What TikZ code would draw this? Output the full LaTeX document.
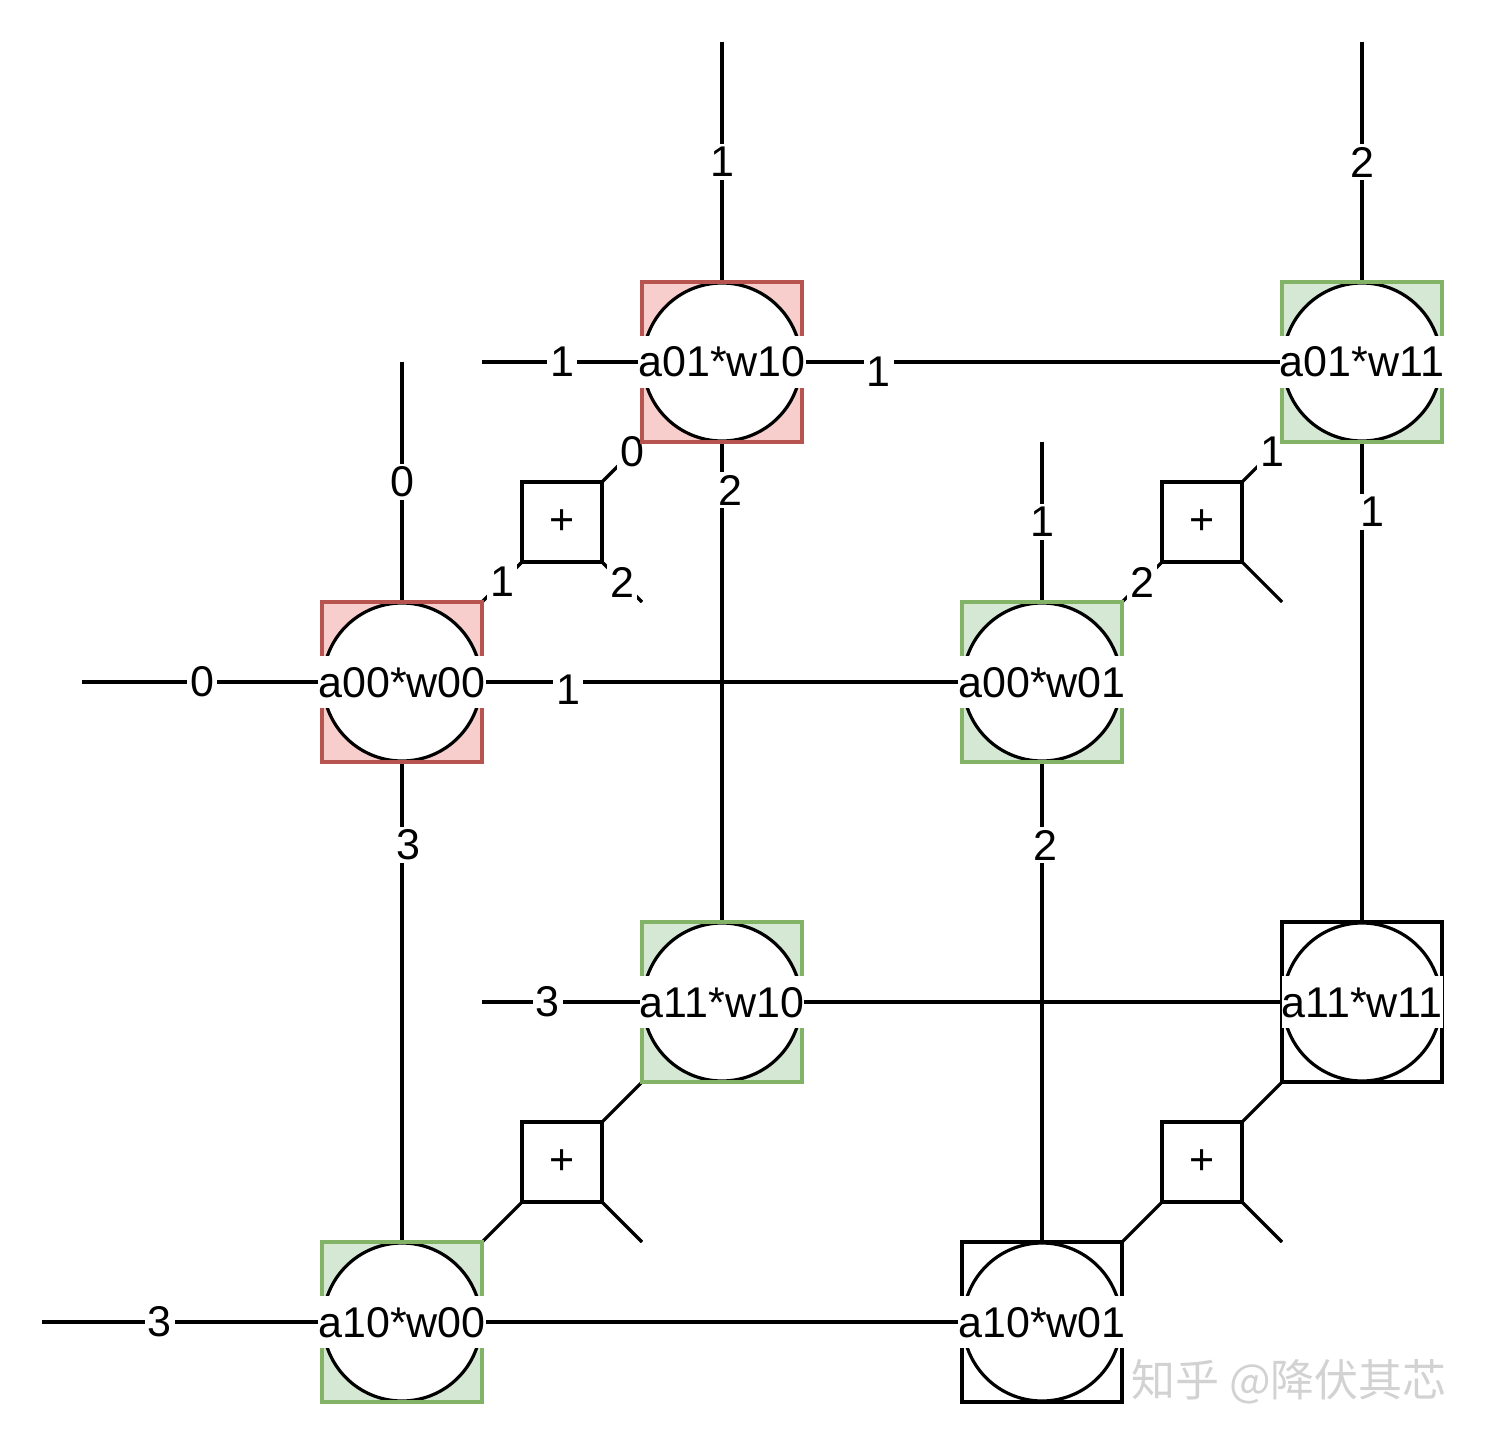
\documentclass[tikz,border=0pt]{standalone}
\usepackage{fontspec}
\setmainfont{Liberation Sans}
\newfontfamily\cjkfont{Noto Sans CJK SC}
\usetikzlibrary{backgrounds}
\definecolor{redfill}{HTML}{F8CECC}
\definecolor{redline}{HTML}{B85450}
\definecolor{greenfill}{HTML}{D5E8D4}
\definecolor{greenline}{HTML}{82B366}

\begin{document}
\begin{tikzpicture}[x=0.5pt, y=-0.5pt, line width=1.6pt, font=\fontsize{21.5}{25}\selectfont,
	mult_node/.style={rectangle, minimum size=80pt, inner sep=0pt, outer sep=0pt, line width=1.6pt,
		path picture={\filldraw[fill=white, draw=black, line width=1.6pt] (path picture bounding box.center) circle (39.5pt);}},
	red_node/.style={mult_node, fill=redfill, draw=redline},
	green_node/.style={mult_node, fill=greenfill, draw=greenline},
	white_node/.style={mult_node, fill=white, draw=black},
	mult_text/.style={fill=white, inner xsep=0pt, inner ysep=2.5pt, text height=18pt, text depth=3pt},
	add_node/.style={rectangle, draw=black, fill=white, minimum size=40pt, inner sep=0pt, outer sep=0pt, line width=1.6pt},
	lbl/.style={fill=white, inner sep=1.5pt}]

	\useasboundingbox (0,0) rectangle (1488,1444);

	\node[red_node, label={[mult_text]center:a01*w10}] (1) at (722, 362) {};
	\node[green_node, label={[mult_text]center:a01*w11}] (2) at (1362, 362) {};
	\node[red_node, label={[mult_text]center:a00*w00}] (3) at (402, 682) {};
	\node[green_node, label={[mult_text]center:a00*w01}] (4) at (1042, 682) {};
	\node[green_node, label={[mult_text]center:a11*w10}] (5) at (722, 1002) {};
	\node[white_node, label={[mult_text]center:a11*w11}] (6) at (1362, 1002) {};
	\node[green_node, label={[mult_text]center:a10*w00}] (7) at (402, 1322) {};
	\node[white_node, label={[mult_text]center:a10*w01}] (8) at (1042, 1322) {};

	\node[add_node] (p1) at (562, 522) {+};
	\node[add_node] (p2) at (1202, 522) {+};
	\node[add_node] (p3) at (562, 1162) {+};
	\node[add_node] (p4) at (1202, 1162) {+};

	\coordinate (e1) at (722, 42);
	\coordinate (e2) at (1362, 42);
	\coordinate (e3) at (482, 362);
	\coordinate (e4) at (402, 362);
	\coordinate (e5) at (1042, 442);
	\coordinate (e6) at (82, 682);
	\coordinate (e7) at (482, 1002);
	\coordinate (e8) at (42, 1322);
	\coordinate (d1) at (642, 602);
	\coordinate (d2) at (1282, 602);
	\coordinate (d3) at (642, 1242);
	\coordinate (d4) at (1282, 1242);

	\begin{scope}[on background layer]
	\path[line width=1.6pt, every node/.style={lbl}]
	(e1) edge node {1} (1.north)
	(e2) edge node {2} (2.north)
	(e3) edge node {1} (1.west)
	(1.east) edge node[pos=.16, yshift=-5pt] {1} (2.west)
	(e4) edge node {0} (3.north)
	(1.south) edge node[pos=.1, xshift=4pt] {2} (5.north)
	(p1.north east) edge node[pos=.75] {0} (1.south west)
	(p1.south west) edge node {1} (3.north east)
	(p1.south east) edge node {2} (d1)
	(e5) edge node {1} (4.north)
	(p2.north east) edge node[pos=.75] {1} (2.south west)
	(p2.south west) edge node {2} (4.north east)
	(p2.south east) edge (d2)
	(2.south) edge node[pos=.146, xshift=5pt] {1} (6.north)
	(e6) edge node {0} (3.west)
	(3.east) edge node[pos=.18, yshift=-4pt] {1} (4.west)
	(3.south) edge node[pos=.173, xshift=3pt] {3} (7.north)
	(4.south) edge node[pos=.173, xshift=1.5pt] {2} (8.north)
	(e7) edge node[pos=.41] {3} (5.west)
	(5.east) edge (6.west)
	(p3.north east) edge (5.south west)
	(p3.south west) edge (7.north east)
	(p3.south east) edge (d3)
	(p4.north east) edge (6.south west)
	(p4.south west) edge (8.north east)
	(p4.south east) edge (d4)
	(e8) edge node[pos=.42] {3} (7.west)
	(7.east) edge (8.west);
	\end{scope}

	\node[font=\cjkfont\fontsize{22}{26}\selectfont, text=gray!35] (wm) at (1289, 1382) {知乎 @降伏其芯};
\end{tikzpicture}
\end{document}
